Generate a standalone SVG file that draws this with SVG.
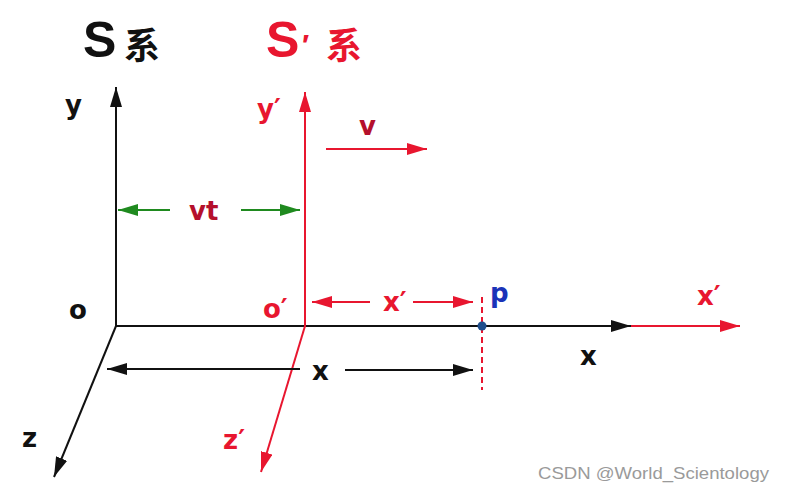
<svg xmlns="http://www.w3.org/2000/svg" width="785" height="492" viewBox="0 0 785 492">
<style>
.lbl{font-family:"DejaVu Sans","Liberation Sans",sans-serif;font-weight:bold;font-size:26px}
.blk{fill:#111}
.red{fill:#e8162f}
.dred{fill:#b5102c}
.blue{fill:#1a33b8}
.title{font-family:"Liberation Sans","Noto Sans CJK SC",sans-serif;font-weight:bold}
.bl{stroke:#111;stroke-width:2;fill:none}
.rl{stroke:#e8162f;stroke-width:2;fill:none}
.gl{stroke:#1f8a1f;stroke-width:2;fill:none}
</style>
<defs>
<marker id="ab" viewBox="0 0 20 12" refX="20" refY="6" markerWidth="20" markerHeight="12" markerUnits="userSpaceOnUse" orient="auto"><path d="M0,0L20,6L0,12z" fill="#111"/></marker>
<marker id="ar" viewBox="0 0 20 12" refX="20" refY="6" markerWidth="20" markerHeight="12" markerUnits="userSpaceOnUse" orient="auto"><path d="M0,0L20,6L0,12z" fill="#e8162f"/></marker>
<marker id="ag" viewBox="0 0 20 12" refX="20" refY="6" markerWidth="20" markerHeight="12" markerUnits="userSpaceOnUse" orient="auto"><path d="M0,0L20,6L0,12z" fill="#1f8a1f"/></marker>
</defs>
<rect width="785" height="492" fill="#fff"/>
<g id="titles">
<text class="title blk" x="83" y="57" font-size="50">S</text>
<text class="title blk" x="124" y="59" font-size="36">系</text>
<text class="title red" x="266" y="57" font-size="50">S</text>
<text class="title red" x="302" y="55" font-size="30">′</text>
<text class="title red" x="326" y="59" font-size="36">系</text>
</g>
<g id="connectors">
<line class="rl" x1="305" y1="326" x2="740" y2="326" marker-end="url(#ar)"/>
<line class="bl" x1="116" y1="326" x2="631" y2="326" marker-end="url(#ab)"/>
<line class="bl" x1="116" y1="327" x2="116" y2="87" marker-end="url(#ab)"/>
<line class="bl" x1="116" y1="326" x2="54" y2="477" marker-end="url(#ab)"/>
<line class="rl" x1="305" y1="327" x2="305" y2="92" marker-end="url(#ar)"/>
<line class="rl" x1="305" y1="326" x2="261" y2="472" marker-end="url(#ar)"/>
<line class="rl" x1="326" y1="149" x2="427" y2="149" marker-end="url(#ar)"/>
<line class="gl" x1="170" y1="210" x2="118" y2="210" marker-end="url(#ag)"/>
<line class="gl" x1="241" y1="210" x2="300" y2="210" marker-end="url(#ag)"/>
<line class="rl" x1="370" y1="302" x2="312" y2="302" marker-end="url(#ar)"/>
<line class="rl" x1="413" y1="302" x2="473" y2="302" marker-end="url(#ar)"/>
<line class="bl" x1="300" y1="369" x2="107" y2="369" marker-end="url(#ab)"/>
<line class="bl" x1="345" y1="370" x2="473" y2="370" marker-end="url(#ab)"/>
<line x1="482" y1="297" x2="482" y2="390" stroke="#e8162f" stroke-width="2" stroke-dasharray="6,4"/>
</g>
<g id="point-p">
<circle cx="482" cy="326" r="4.5" fill="#1f4e8c"/>
<text class="lbl blue" x="490" y="302">p</text>
</g>
<g id="labels">
<text class="lbl blk" x="65" y="114">y</text>
<text class="lbl red" x="257" y="118">y′</text>
<text class="lbl dred" x="359" y="135" font-size="31">v</text>
<text class="lbl dred" x="189" y="220">vt</text>
<text class="lbl blk" x="69" y="319">o</text>
<text class="lbl red" x="263" y="318">o′</text>
<text class="lbl red" x="383" y="311">x′</text>
<text class="lbl red" x="697" y="305">x′</text>
<text class="lbl blk" x="580" y="365">x</text>
<text class="lbl blk" x="312" y="380">x</text>
<text class="lbl blk" x="22" y="447">z</text>
<text class="lbl red" x="223" y="449">z′</text>
</g>
<text x="538" y="479" font-family="Liberation Sans, sans-serif" font-size="17" fill="#9a9a9a" textLength="231" lengthAdjust="spacingAndGlyphs">CSDN @World_Scientology</text>
</svg>
